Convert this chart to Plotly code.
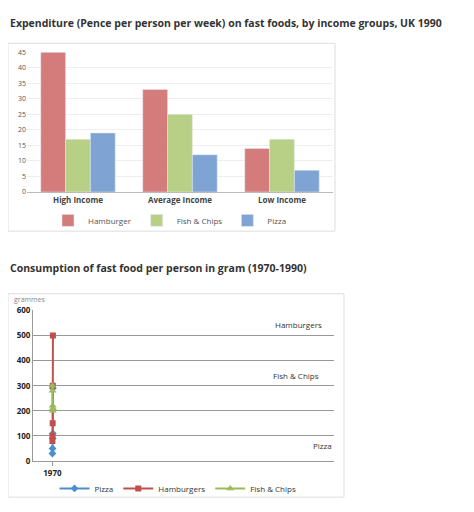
import plotly.graph_objects as go

groups = ["High Income", "Average Income", "Low Income"]
hamburger = [45, 33, 14]
fish_chips = [17, 25, 17]
pizza = [19, 12, 7]

years = ["1970", "1975", "1980", "1985", "1990"]
pizza_g = [30, 50, 90, 110, 290]
hamburgers_g = [80, 100, 150, 300, 500]
fish_g = [300, 280, 220, 200, 210]

OFF = 8
W, H = 474 - OFF, 512 - OFF
def px(x): return max(0, (x - OFF)) / W
def py(y): return 1 - max(0, (y - OFF)) / H

fig = go.Figure()
fig.add_bar(x=groups, y=hamburger, name="Hamburger", marker_color="#D47B7B", xaxis="x", yaxis="y", legend="legend")
fig.add_bar(x=groups, y=fish_chips, name="Fish & Chips", marker_color="#B8D086", xaxis="x", yaxis="y", legend="legend")
fig.add_bar(x=groups, y=pizza, name="Pizza", marker_color="#7FA4D3", xaxis="x", yaxis="y", legend="legend")

fig.add_scatter(x=years, y=pizza_g, name="Pizza", mode="lines+markers", line=dict(color="#4A8FCB", width=2),
                marker=dict(symbol="diamond", size=6), xaxis="x2", yaxis="y2", legend="legend2")
fig.add_scatter(x=years, y=hamburgers_g, name="Hamburgers", mode="lines+markers", line=dict(color="#C0504D", width=2),
                marker=dict(symbol="square", size=6), xaxis="x2", yaxis="y2", legend="legend2")
fig.add_scatter(x=years, y=fish_g, name="Fish & Chips", mode="lines+markers", line=dict(color="#9BBB59", width=2),
                marker=dict(symbol="triangle-up", size=7), xaxis="x2", yaxis="y2", legend="legend2")

f = dict(family="Open Sans, DejaVu Sans, sans-serif", color="#333")
fig.update_layout(
    width=W, height=H, margin=dict(l=0, r=0, t=0, b=0),
    paper_bgcolor="white", plot_bgcolor="white", font=dict(f, size=8),
    barmode="group", bargap=0.27, bargroupgap=0,
    xaxis=dict(domain=[px(27), px(333)], anchor="y", type="category", showline=True, linecolor="#bbb",
               tickfont=dict(size=8, color="#444", weight="bold"), ticks=""),
    yaxis=dict(domain=[py(190), py(47)], anchor="x", range=[0, 45], dtick=5, showgrid=True,
               gridcolor="#eee", zeroline=False, tickfont=dict(size=7, color="#555")),
    xaxis2=dict(domain=[px(33), px(334)], anchor="y2", type="category", showline=True, linecolor="#999",
                ticks="outside", ticklen=4, tickcolor="#999", tickfont=dict(size=8, color="#222", weight="bold")),
    yaxis2=dict(domain=[py(465), py(311)], anchor="x2", range=[0, 600], dtick=100, showgrid=True,
                gridcolor="#999", zeroline=False, showline=True, linecolor="#999",
                tickfont=dict(size=8, color="#222", weight="bold")),
    legend=dict(orientation="h", x=px(170), xanchor="center", y=py(219), yanchor="middle",
                font=dict(size=8, color="#555"), itemwidth=30, bgcolor="rgba(0,0,0,0)"),
    legend2=dict(orientation="h", x=px(178), xanchor="center", y=py(493), yanchor="middle",
                 font=dict(size=8, color="#333"), itemwidth=30, bgcolor="rgba(0,0,0,0)"),
    shapes=[
        dict(type="rect", xref="paper", yref="paper", x0=px(8), x1=px(335), y0=py(230), y1=py(38),
             line=dict(color="#ddd", width=1)),
        dict(type="rect", xref="paper", yref="paper", x0=px(8), x1=px(344), y0=py(502), y1=py(294),
             line=dict(color="#ddd", width=1)),
    ],
    annotations=[
        dict(text="<b>Expenditure (Pence per person per week) on fast foods, by income groups, UK 1990</b>",
             xref="paper", yref="paper", x=0, y=1, xanchor="left", yanchor="top",
             showarrow=False, font=dict(size=10.5, color="#333", family="Open Sans")),
        dict(text="<b>Consumption of fast food per person in gram (1970-1990)</b>",
             xref="paper", yref="paper", x=0, y=py(268), xanchor="left", yanchor="middle",
             showarrow=False, font=dict(size=10.5, color="#333", family="Open Sans")),
        dict(text="grammes", xref="paper", yref="paper", x=px(12), y=py(300), xanchor="left", yanchor="middle",
             showarrow=False, font=dict(size=7, color="#888")),
        dict(text="Fish & Chips", xref="x2", yref="y2", x="1970", y=340, xanchor="center",
             showarrow=False, font=dict(size=8, color="#333")),
        dict(text="Hamburgers", xref="x2", yref="y2", x="1990", y=545, xanchor="center",
             showarrow=False, font=dict(size=8, color="#333")),
        dict(text="Pizza", xref="x2", yref="y2", x="1980", y=60, xanchor="center", xshift=25,
             showarrow=False, font=dict(size=8, color="#333")),
    ],
)
fig.write_html("out.html")
